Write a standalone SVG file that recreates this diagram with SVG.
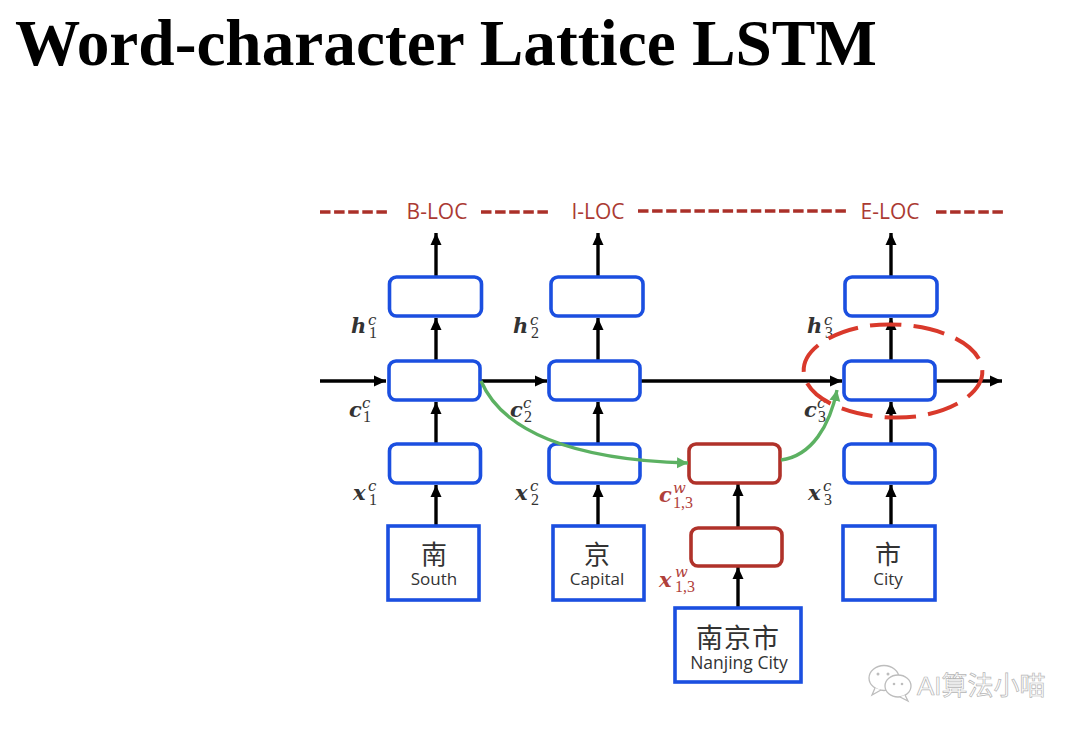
<svg xmlns="http://www.w3.org/2000/svg" width="1080" height="732" viewBox="0 0 1080 732">
<defs>
<marker id="ak" markerUnits="userSpaceOnUse" markerWidth="13" markerHeight="12" refX="12" refY="6" orient="auto"><path d="M0,0.5L12,6L0,11.500z" fill="#000"/></marker>
<marker id="ag" markerUnits="userSpaceOnUse" markerWidth="12" markerHeight="12" refX="11" refY="6" orient="auto"><path d="M0,0.5L11,6L0,11.500z" fill="#5cb162"/></marker>
</defs>
<style>
.c{fill:#fff;stroke:#1b4fe0;stroke-width:3.600}
.w{fill:#fff;stroke:#b0322a;stroke-width:3.600}
.b{fill:#fff;stroke:#1b4fe0;stroke-width:3.600}
.k{fill:none;stroke:#000;stroke-width:3.400;marker-end:url(#ak)}
.g{fill:none;stroke:#5cb162;stroke-width:3.400;marker-end:url(#ag)}
.d{fill:none;stroke:#ab3029;stroke-width:3.400;stroke-dasharray:10.500 3.600}
.t{font-family:"Open Sans","Liberation Sans",sans-serif;font-size:21px;fill:#ab3a33;text-anchor:middle}
.l{fill:#333}
.r{fill:#b0403a}
.m{font-family:"DejaVu Serif",serif;font-weight:bold;font-style:italic;font-size:21px}
.s{font-family:"DejaVu Serif",serif;font-style:italic;font-size:15px}
.n{font-family:"Liberation Serif",serif;font-size:16px}
.z{font-family:"Noto Sans CJK SC",sans-serif;fill:#333;text-anchor:middle}
.e{font-family:"Open Sans","Liberation Sans",sans-serif;font-size:17px;fill:#333;text-anchor:middle}
</style>
<text x="15" y="65" font-family="Liberation Serif,serif" font-weight="bold" font-size="65" fill="#000" textLength="862" lengthAdjust="spacingAndGlyphs">Word-character Lattice LSTM</text>

<g id="tags">
<path class="d" d="M320,212H387"/><path class="d" d="M481,212H548"/><path class="d" d="M638,211H846"/><path class="d" d="M936,212H1003"/>
<text class="t" x="437" y="219">B-LOC</text><text class="t" x="598" y="219">I-LOC</text><text class="t" x="890" y="219">E-LOC</text>
</g>

<g id="connectors">
<path class="k" d="M436,276V233"/><path class="k" d="M598,276V233"/><path class="k" d="M891,276V233"/>
<path class="k" d="M436,360V318"/><path class="k" d="M598,360V318"/><path class="k" d="M891,360V318"/>
<path class="k" d="M436,443V402"/><path class="k" d="M598,443V402"/><path class="k" d="M891,443V402"/>
<path class="k" d="M436,526V485"/><path class="k" d="M598,526V485"/><path class="k" d="M891,526V485"/>
<path class="k" d="M738,527V484"/><path class="k" d="M738,608V567"/>
<path class="k" d="M320,381H386"/><path class="k" d="M481,381H547"/><path class="k" d="M641,381H842"/><path class="k" d="M936,381H1002"/>
</g>

<g id="h1"><rect class="c" x="389.500" y="277" width="92" height="39" rx="7"/></g>
<g id="h2"><rect class="c" x="551" y="277" width="92" height="39" rx="7"/></g>
<g id="h3"><rect class="c" x="845" y="277" width="92" height="39" rx="7"/></g>
<g id="c1"><rect class="c" x="389" y="361" width="91" height="39" rx="7"/></g>
<g id="c2"><rect class="c" x="549" y="361" width="91" height="39" rx="7"/></g>
<g id="c3"><rect class="c" x="844" y="361" width="91" height="39" rx="7"/></g>
<g id="x1"><rect class="c" x="389.500" y="444" width="91" height="39" rx="7"/></g>
<g id="x2"><rect class="c" x="549" y="444" width="91" height="39" rx="7"/></g>
<g id="x3"><rect class="c" x="844" y="444" width="91" height="39" rx="7"/></g>
<g id="cw"><rect class="w" x="689" y="444" width="91" height="39" rx="7"/></g>
<g id="xw"><rect class="w" x="691" y="528" width="91" height="38" rx="7"/></g>

<g id="green">
<path class="g" d="M481,381C502,430 570,460 688,463"/>
<path class="g" d="M781,460C812,456 830,425 837,390"/>
</g>

<g id="nan"><rect class="b" x="388" y="526" width="91" height="74"/><text class="z" x="434" y="564" font-size="26">南</text><text class="e" x="434" y="585">South</text></g>
<g id="jing"><rect class="b" x="553" y="526" width="91" height="74"/><text class="z" x="597" y="564" font-size="26">京</text><text class="e" x="597" y="585">Capital</text></g>
<g id="shi"><rect class="b" x="843" y="526" width="92" height="74"/><text class="z" x="888" y="564" font-size="26">市</text><text class="e" x="888" y="585">City</text></g>
<g id="nanjing"><rect class="b" x="675" y="608" width="126" height="74"/><text class="z" x="738" y="648" font-size="27" letter-spacing="1">南京市</text><text class="e" x="739" y="669" style="font-size:17.500px">Nanjing City</text></g>

<g id="labels">
<text class="l"><tspan class="m" x="351" y="333">h</tspan><tspan class="s" x="368" y="325">c</tspan><tspan class="n" x="369" y="338">1</tspan></text>
<text class="l"><tspan class="m" x="513" y="333">h</tspan><tspan class="s" x="530" y="325">c</tspan><tspan class="n" x="531" y="338">2</tspan></text>
<text class="l"><tspan class="m" x="807" y="333">h</tspan><tspan class="s" x="824" y="325">c</tspan><tspan class="n" x="825" y="338">3</tspan></text>
<text class="l"><tspan class="m" x="349" y="417">c</tspan><tspan class="s" x="362" y="408">c</tspan><tspan class="n" x="363" y="422">1</tspan></text>
<text class="l"><tspan class="m" x="510" y="417">c</tspan><tspan class="s" x="523" y="408">c</tspan><tspan class="n" x="524" y="422">2</tspan></text>
<text class="l"><tspan class="m" x="804" y="417">c</tspan><tspan class="s" x="817" y="408">c</tspan><tspan class="n" x="818" y="422">3</tspan></text>
<text class="l"><tspan class="m" x="353" y="500">x</tspan><tspan class="s" x="368" y="491">c</tspan><tspan class="n" x="369" y="505">1</tspan></text>
<text class="l"><tspan class="m" x="515" y="500">x</tspan><tspan class="s" x="530" y="491">c</tspan><tspan class="n" x="531" y="505">2</tspan></text>
<text class="l"><tspan class="m" x="808" y="500">x</tspan><tspan class="s" x="823" y="491">c</tspan><tspan class="n" x="824" y="505">3</tspan></text>
<text class="r"><tspan class="m" x="659" y="502">c</tspan><tspan class="s" x="673" y="493">w</tspan><tspan class="n" x="673" y="508">1,3</tspan></text>
<text class="r"><tspan class="m" x="659" y="587">x</tspan><tspan class="s" x="675" y="577">w</tspan><tspan class="n" x="675" y="592">1,3</tspan></text>
</g>

<g id="highlight"><path d="M870,325.500A93,47 0 0 1 916,416.500A93,47 0 0 1 870,325.500" pathLength="100" fill="none" stroke="#d9392b" stroke-width="4" stroke-dasharray="7.200 2.800"/></g>

<g id="watermark">
<g fill="#fff" stroke="#bdbdbd" stroke-width="1.300">
<ellipse cx="884" cy="678" rx="15" ry="12.500"/><path d="M875,688L872,695L881,690"/><ellipse cx="898" cy="686" rx="13" ry="11"/><path d="M905,695L908,701L900,697"/>
</g>
<g fill="#bdbdbd"><circle cx="878" cy="674" r="1.500"/><circle cx="888" cy="674" r="1.500"/><circle cx="894" cy="684" r="1.300"/><circle cx="902" cy="684" r="1.300"/></g>
<text x="917" y="695" font-family="Liberation Sans,Noto Sans CJK SC,sans-serif" font-size="26" fill="#fff" stroke="#b5b5b5" stroke-width="0.700">AI算法小喵</text>
</g>
</svg>
